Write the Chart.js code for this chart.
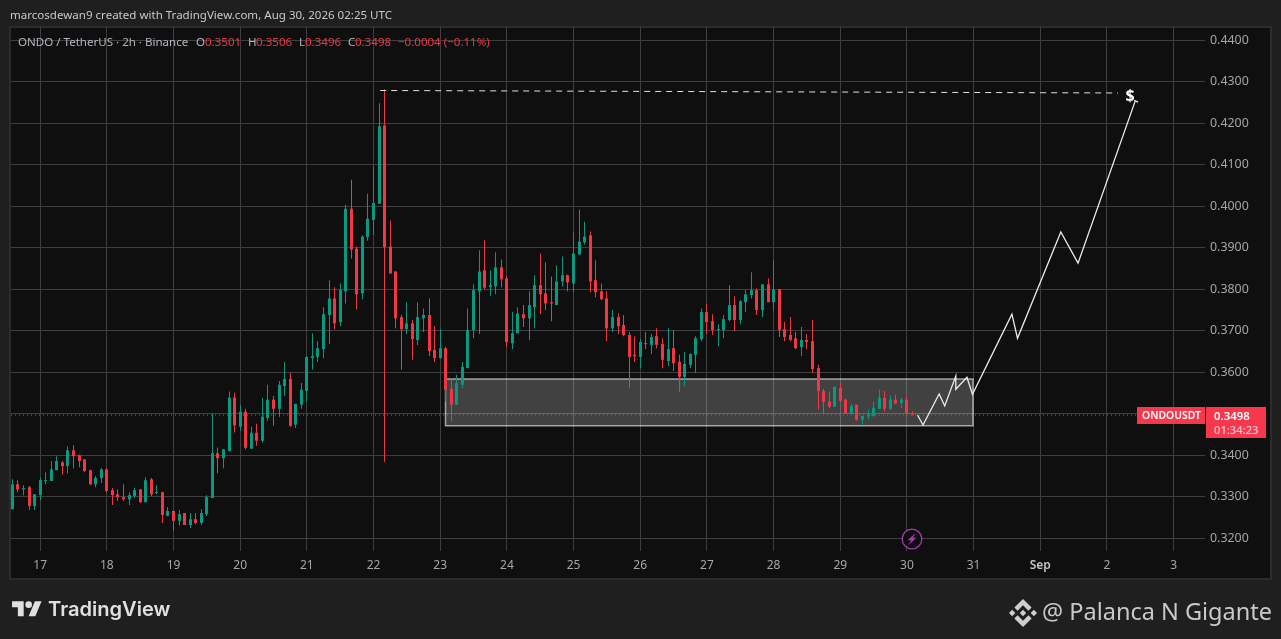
<!DOCTYPE html>
<html><head><meta charset="utf-8">
<script src="https://cdn.jsdelivr.net/npm/chart.js@4"></script>
<style>
html,body{margin:0;padding:0;width:1281px;height:639px;overflow:hidden;background:#1f1f1f;font-family:"Noto Sans",sans-serif}
#panel{position:absolute;left:9px;top:26px;width:1259px;height:550px;background:#0f0f0f;border:2px solid #2c2c2c}
canvas{position:absolute;left:0;top:0}
.t{position:absolute;white-space:pre;line-height:1}
.r{color:#f23645}.g{color:#b2b5be}
</style></head><body>
<div id="panel"></div>
<canvas id="c" width="1281" height="639"></canvas>
<div class="t" style="left:10px;top:9px;font-size:11.55px;color:#c8c8c8">marcosdewan9 created with TradingView.com, Aug 30, 2026 02:25 UTC</div>
<div class="t g" style="left:18px;top:36px;font-size:11.55px">ONDO / TetherUS · 2h · Binance</div>
<div class="t g" style="left:196px;top:36px;font-size:11.55px">O</div><div class="t r" style="left:205px;top:36px;font-size:11.55px">0.3501</div>
<div class="t g" style="left:248px;top:36px;font-size:11.55px">H</div><div class="t r" style="left:256px;top:36px;font-size:11.55px">0.3506</div>
<div class="t g" style="left:299px;top:36px;font-size:11.55px">L</div><div class="t r" style="left:305px;top:36px;font-size:11.55px">0.3496</div>
<div class="t g" style="left:348px;top:36px;font-size:11.55px">C</div><div class="t r" style="left:355px;top:36px;font-size:11.55px">0.3498</div>
<div class="t r" style="left:398px;top:36px;font-size:11.55px">−0.0004 (−0.11%)</div>
<div class="t" style="left:1125.5px;top:87px;font-size:16px;font-weight:700;color:#fff">$</div>
<div style="position:absolute;left:1137px;top:407px;width:68px;height:17px;background:#f7374c"></div>
<div class="t" style="left:1142px;top:410px;font-size:10.4px;font-weight:600;color:#fff">ONDOUSDT</div>
<div style="position:absolute;left:1206px;top:407px;width:60px;height:31px;background:#f7374c"></div>
<div class="t" style="left:1214px;top:410px;font-size:11.4px;font-weight:600;color:#fff">0.3498</div>
<div class="t" style="left:1214px;top:424px;font-size:11.2px;font-weight:500;color:#fff;opacity:.72">01:34:23</div>
<svg style="position:absolute;left:901px;top:528px" width="22" height="22" viewBox="0 0 22 22"><circle cx="11" cy="11" r="9.8" fill="#0f0f0f" stroke="#a33cb0" stroke-width="1.3"/><path d="M14.5 5 6.5 12.2h3.6l-2.6 4.8 8-7.2h-3.6z" fill="#a33cb0"/></svg>
<svg style="position:absolute;left:12px;top:597.7px" width="30" height="23.3" viewBox="0 0 36 28"><path fill="#e0e0e0" d="M14 22H7V11H0V4h14v18zM28 22h-8l7.5-18h8L28 22z"/><circle fill="#e0e0e0" cx="20" cy="8" r="4"/></svg>
<div class="t" style="left:48px;top:598.5px;font-size:20.1px;font-weight:600;font-family:Inter,sans-serif;color:#e0e0e0">TradingView</div>
<svg style="position:absolute;left:1009px;top:599px" width="28" height="28" viewBox="0 0 32 32"><path fill="#cfcfcf" d="M9.79 13.44 16 7.23l6.21 6.22 3.61-3.61L16 0 6.18 9.82zM0 16l3.61-3.61L7.22 16l-3.61 3.61zM9.79 18.56 16 24.77l6.21-6.22 3.61 3.61L16 32 6.18 22.18zM24.78 16l3.61-3.61L32 16l-3.61 3.61zM19.66 16 16 12.34 12.35 16 16 19.66z"/></svg>
<div class="t" style="left:1042px;top:600px;font-size:23.5px;color:#c9c9c9">@ Palanca N Gigante</div>
<script>
const openP=[.3270,.3330,.3318,.3323,.3278,.3304,.3338,.3338,.3364,.3383,
.3374,.3412,.3400,.3390,.3364,.3330,.3345,.3366,.3316,.3306,
.3299,.3294,.3302,.3318,.3287,.3342,.3309,.3311,.3254,.3266,
.3242,.3261,.3232,.3246,.3237,.3258,.3297,.3405,.3393,.3410,
.3539,.3469,.3505,.3416,.3454,.3435,.3490,.3534,.3512,.3567,
.3584,.3474,.3522,.3555,.3634,.3637,.3656,.3738,.3778,.3721,
.3795,.3994,.3898,.3790,.3926,.3967,.4006,.4195,.3903,.3843,
.3733,.3704,.3718,.3678,.3730,.3738,.3654,.3634,.3658,.3560,
.3522,.3570,.3610,.3702,.3795,.3846,.3805,.3807,.3853,.3826,
.3670,.3694,.3740,.3730,.3757,.3810,.3790,.3769,.3762,.3819,
.3834,.3814,.3884,.3913,.3930,.3822,.3795,.3778,.3706,.3733,
.3714,.3690,.3642,.3637,.3670,.3666,.3687,.3668,.3627,.3658,
.3625,.3589,.3618,.3642,.3680,.3745,.3723,.3702,.3702,.3726,
.3762,.3726,.3769,.3786,.3798,.3750,.3812,.3769,.3800,.3704,
.3690,.3682,.3661,.3678,.3675,.3610,.3555,.3529,.3517,.3562,
.3534,.3500,.3522,.3486,.3493,.3495,.3512,.3538,.3512,.3534,
.3526,.3534,.3501];
const highP=[.3342,.3340,.3328,.3326,.3307,.3347,.3359,.3386,.3398,.3386,
.3422,.3424,.3402,.3391,.3365,.3350,.3369,.3369,.3321,.3318,
.3330,.3311,.3321,.3319,.3347,.3345,.3328,.3312,.3275,.3266,
.3268,.3261,.3261,.3261,.3270,.3304,.3500,.3419,.3415,.3554,
.3551,.3522,.3512,.3469,.3476,.3538,.3570,.3543,.3579,.3625,
.3598,.3524,.3574,.3639,.3694,.3675,.3757,.3822,.3805,.3814,
.4004,.4064,.3903,.3930,.4030,.4098,.4248,.4282,.3966,.3843,
.3738,.3769,.3726,.3769,.3754,.3778,.3711,.3704,.3661,.3586,
.3594,.3625,.3754,.3812,.3894,.3918,.3846,.3889,.3872,.3831,
.3745,.3757,.3762,.3795,.3834,.3886,.3865,.3831,.3858,.3879,
.3835,.3937,.3992,.3963,.3939,.3870,.3814,.3795,.3750,.3742,
.3738,.3697,.3687,.3680,.3697,.3692,.3706,.3682,.3706,.3702,
.3642,.3649,.3646,.3687,.3754,.3764,.3740,.3716,.3738,.3810,
.3783,.3774,.3798,.3841,.3802,.3812,.3826,.3870,.3801,.3721,
.3733,.3697,.3709,.3692,.3726,.3618,.3560,.3553,.3565,.3574,
.3536,.3524,.3522,.3495,.3510,.3529,.3558,.3555,.3543,.3546,
.3538,.3541,.3506];
const lowP=[.3270,.3311,.3304,.3268,.3268,.3292,.3330,.3338,.3364,.3354,
.3357,.3369,.3371,.3359,.3328,.3323,.3333,.3311,.3280,.3290,
.3290,.3280,.3297,.3285,.3287,.3302,.3306,.3237,.3253,.3218,
.3230,.3232,.3225,.3234,.3232,.3254,.3297,.3357,.3369,.3410,
.3455,.3459,.3414,.3416,.3423,.3430,.3483,.3471,.3493,.3543,
.3469,.3466,.3512,.3529,.3606,.3625,.3634,.3668,.3704,.3711,
.3766,.3874,.3752,.3776,.3917,.3931,.4006,.3384,.3838,.3706,
.3606,.3692,.3630,.3666,.3697,.3639,.3625,.3634,.3529,.3481,
.3522,.3562,.3610,.3682,.3692,.3800,.3783,.3788,.3805,.3661,
.3656,.3694,.3709,.3678,.3706,.3740,.3750,.3723,.3762,.3807,
.3795,.3793,.3882,.3908,.3793,.3781,.3774,.3675,.3697,.3692,
.3687,.3562,.3625,.3610,.3656,.3644,.3658,.3610,.3615,.3603,
.3553,.3567,.3610,.3598,.3675,.3692,.3690,.3663,.3682,.3723,
.3699,.3716,.3745,.3778,.3738,.3733,.3769,.3747,.3685,.3675,
.3675,.3656,.3639,.3656,.3598,.3510,.3502,.3514,.3517,.3529,
.3500,.3498,.3483,.3474,.3486,.3493,.3512,.3505,.3510,.3524,
.3514,.3500,.3496];
const closeP=[.3330,.3318,.3321,.3278,.3306,.3340,.3340,.3366,.3386,.3374,
.3412,.3398,.3386,.3362,.3330,.3345,.3366,.3314,.3304,.3299,
.3294,.3304,.3316,.3287,.3340,.3306,.3311,.3256,.3266,.3242,
.3258,.3232,.3246,.3237,.3261,.3299,.3405,.3393,.3414,.3539,
.3472,.3505,.3418,.3454,.3435,.3493,.3534,.3512,.3570,.3584,
.3471,.3524,.3558,.3637,.3639,.3658,.3740,.3778,.3718,.3798,
.3994,.3896,.3788,.3927,.3970,.4008,.4193,.3902,.3838,.3730,
.3704,.3718,.3680,.3733,.3738,.3651,.3634,.3658,.3558,.3522,
.3574,.3613,.3702,.3798,.3843,.3804,.3810,.3853,.3824,.3673,
.3694,.3742,.3730,.3762,.3810,.3788,.3766,.3766,.3819,.3834,
.3817,.3886,.3915,.3927,.3819,.3793,.3776,.3706,.3733,.3711,
.3690,.3637,.3639,.3673,.3668,.3685,.3666,.3630,.3656,.3622,
.3589,.3620,.3644,.3682,.3745,.3721,.3702,.3704,.3728,.3762,
.3726,.3771,.3788,.3798,.3750,.3812,.3769,.3800,.3702,.3685,
.3678,.3658,.3678,.3673,.3608,.3555,.3529,.3517,.3565,.3531,
.3500,.3519,.3486,.3495,.3498,.3514,.3538,.3512,.3534,.3524,
.3534,.3500,.3498];

const priceTicks=[.32,.33,.34,.35,.36,.37,.38,.39,.40,.41,.42,.43,.44];
const dayLabels=['17','18','19','20','21','22','23','24','25','26','27','28','29','30','31','Sep','2','3'];
const dayTickIndex=[5,17,29,41,53,65,77,89,101,113,125,137,149,161,173,185,197,209];

const pathX=[162.9,163.9,166.8,167.8,169.8,169.8,171.8,172.8,179.9,180.9,188.7,191.8,202.1];
const pathP=[.3497,.3473,.3548,.3519,.3591,.3559,.3588,.3547,.3740,.3682,.3938,.3863,.4254];
const arrowX=[201.9,202.6];
const arrowP=[.4255,.4251];
const targetX=[66.2,199];
const targetP=[.4279,.4273];
const zoneX=[77.95,172.9];
const zoneP=[.3584,.3471];
const lastX=[-0.25,202.4];
const lastP=[.3497,.3497];

const RED='#f23645',GREEN='#089981';
const colors=openP.map((o,i)=>closeP[i]>=o?GREEN:RED);
const wickData=openP.map((o,i)=>({x:i,y:[lowP[i],highP[i]]}));
const bodyData=openP.map((o,i)=>({x:i,y:[o,closeP[i]]}));
const pts=(xs,ys)=>xs.map((x,i)=>({x,y:ys[i]}));
const zone=[{x:zoneX[0],y:zoneP[0]},{x:zoneX[1],y:zoneP[0]},{x:zoneX[1],y:zoneP[1]},{x:zoneX[0],y:zoneP[1]},{x:zoneX[0],y:zoneP[0]}];

const snap={id:'snap',afterDatasetsUpdate(ch){
  ch.data.datasets.forEach((d,k)=>{ if(d.type==='bar'||!d.type){
    ch.getDatasetMeta(k).data.forEach(el=>{el.x=Math.floor(el.x)+.5;});
  }});
}};

new Chart(document.getElementById('c'),{
  type:'bar',
  plugins:[snap],
  data:{datasets:[
    {type:'line',data:zone,order:5,borderColor:'rgba(255,255,255,.58)',borderWidth:1.5,backgroundColor:'rgba(255,255,255,.21)',fill:'shape',pointRadius:0,tension:0},
    {type:'bar',data:wickData,order:4,grouped:false,barThickness:1,backgroundColor:colors,borderWidth:0,borderSkipped:false,inflateAmount:0},
    {type:'bar',data:bodyData,order:3,grouped:false,barThickness:3,backgroundColor:colors,borderWidth:0,borderSkipped:false,minBarLength:1,inflateAmount:0},
    {type:'line',data:pts(lastX,lastP),order:2,borderColor:RED,borderWidth:1,borderDash:[1,3],pointRadius:0},
    {type:'line',data:pts(targetX,targetP),order:1,borderColor:'#e2e2e2',borderWidth:1,borderDash:[6,5],pointRadius:0},
    {type:'line',data:pts(pathX,pathP),order:0,borderColor:'#ececec',borderWidth:1.3,pointRadius:0,tension:0},
    {type:'line',data:pts(arrowX,arrowP),order:0,borderColor:'#ececec',borderWidth:1.3,pointRadius:0,tension:0}
  ]},
  options:{
    responsive:false,animation:false,devicePixelRatio:1,
    layout:{padding:{left:11,top:27,right:0,bottom:0}},
    plugins:{legend:{display:false},tooltip:{enabled:false}},
    scales:{
      x:{type:'linear',offset:false,min:-0.25,max:214.65,position:'bottom',
        grid:{color:'#3f3f3f',drawTicks:false,offset:false},border:{display:false},
        afterBuildTicks(s){s.ticks=dayTickIndex.map(v=>({value:v}));},
        afterFit(s){s.height=88;},
        ticks:{autoSkip:false,maxRotation:0,padding:7,
          color:c=>c.index===15?'#c4c4c4':'#a6a6a6',
          font:c=>({family:'"Noto Sans"',size:12,weight:c.index===15?'600':'400'}),
          callback:(v,i)=>dayLabels[i]}
      },
      y:{type:'linear',position:'right',min:.31694,max:.44320,
        grid:{color:'#3f3f3f',drawTicks:false},border:{display:false},
        afterBuildTicks(s){s.ticks=priceTicks.map(v=>({value:v}));},
        afterFit(s){s.width=76;},
        ticks:{padding:5,color:'#a6a6a6',font:{family:'"Noto Sans"',size:12.4},callback:v=>v.toFixed(4)}
      }
    }
  }
});
</script>
</body></html>
